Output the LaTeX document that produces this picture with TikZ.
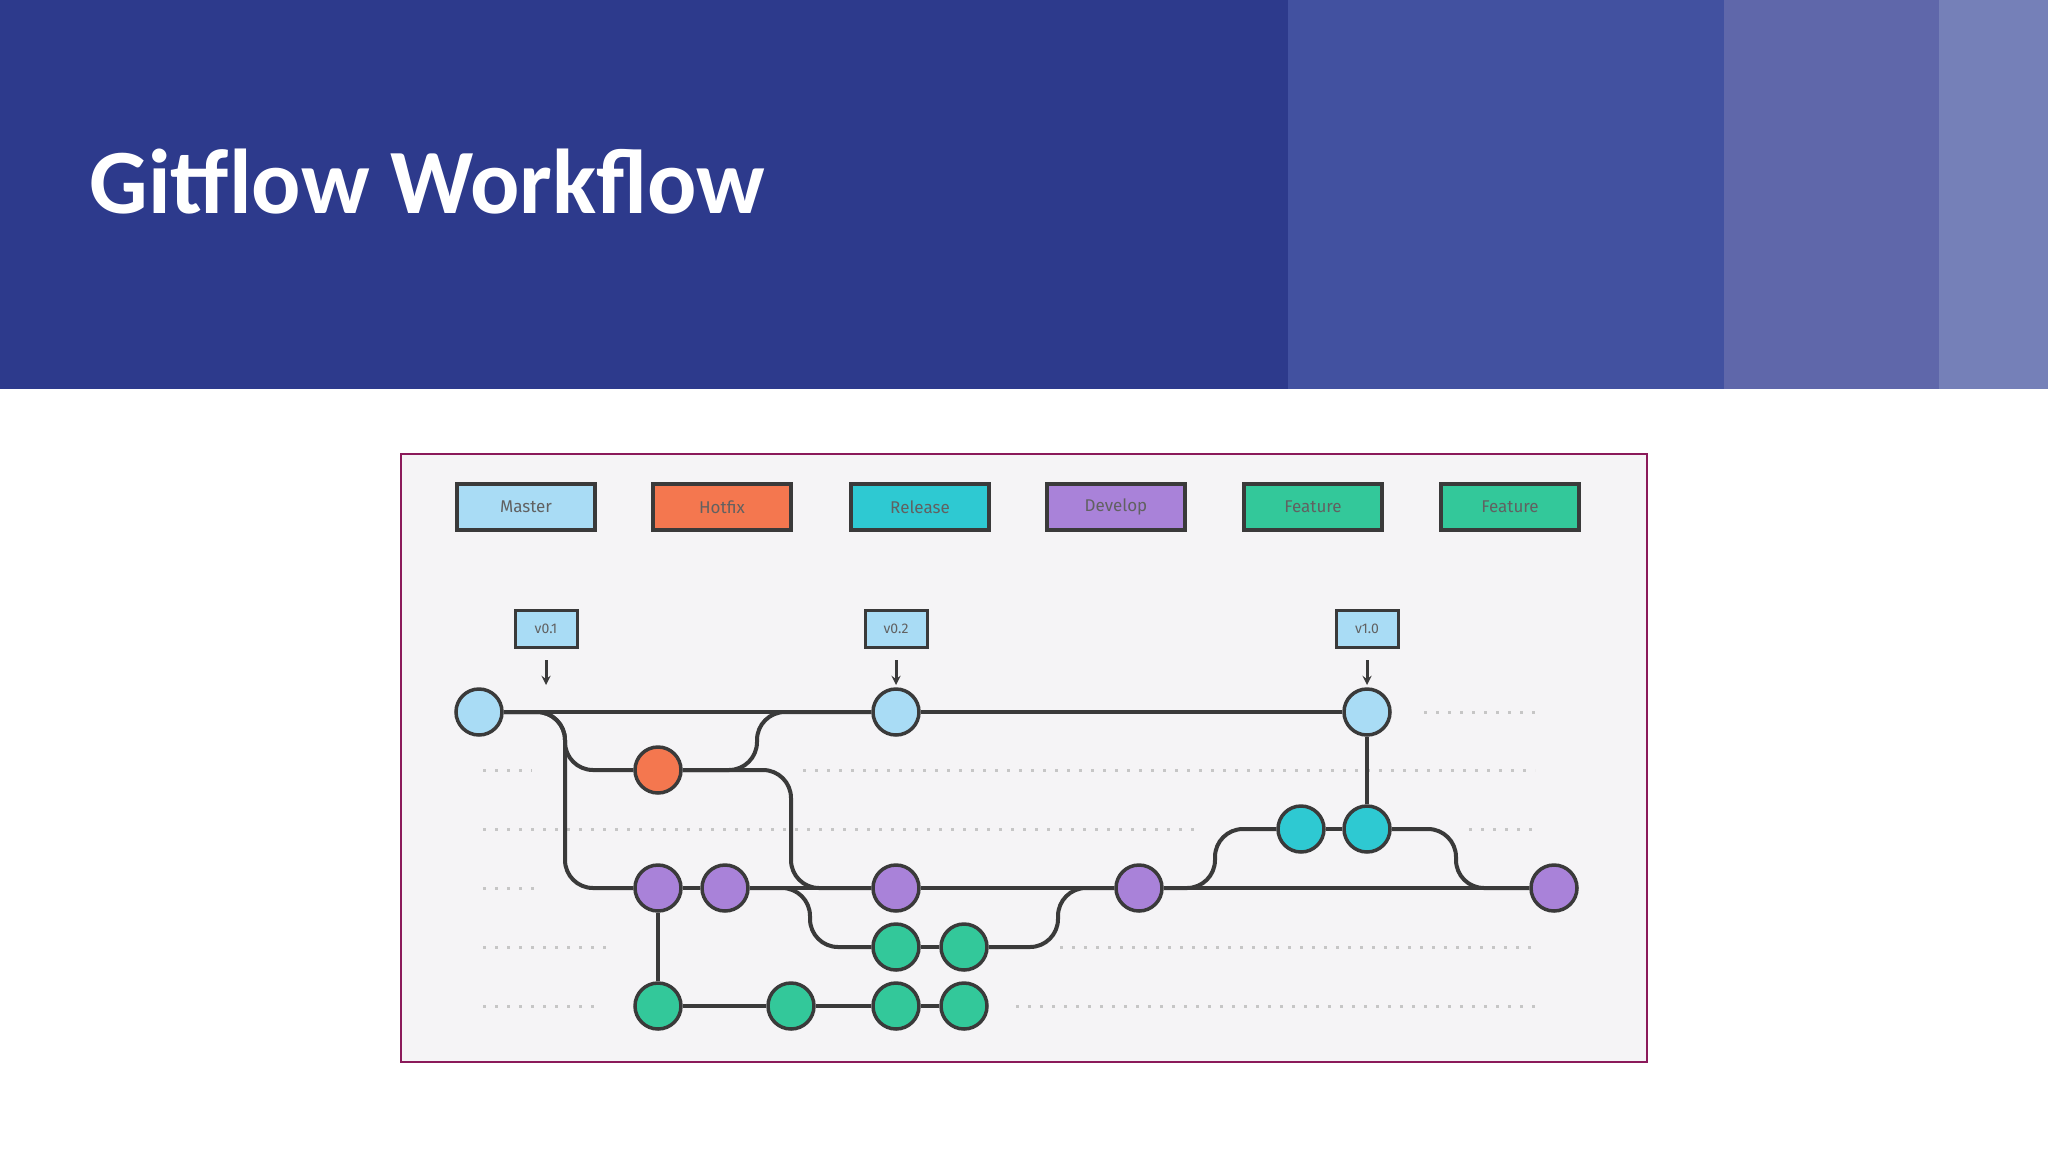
\documentclass[tikz,border=0pt]{standalone}
\usepackage{fontspec}
\setmainfont{Carlito}
\newfontfamily\legendfont{Fira Sans}
\usetikzlibrary{backgrounds}
\definecolor{hdrA}{HTML}{2D3A8C}
\definecolor{hdrB}{HTML}{4251A0}
\definecolor{hdrC}{HTML}{5F67AA}
\definecolor{hdrD}{HTML}{7580B8}
\definecolor{masterc}{HTML}{A9DCF5}
\definecolor{hotfixc}{HTML}{F4774F}
\definecolor{releasec}{HTML}{2EC9D2}
\definecolor{developc}{HTML}{A982D9}
\definecolor{featurec}{HTML}{33C89A}
\definecolor{linec}{HTML}{3A3A3A}
\definecolor{framec}{HTML}{8B1A5A}
\definecolor{panelc}{HTML}{F5F4F6}
\tikzset{
  commit/.style={circle,draw=linec,line width=3.5pt,minimum size=46pt,inner sep=0pt,fill=#1},
  legend/.style={draw=linec,line width=3.5pt,minimum width=138pt,minimum height=46pt,fill=#1,
    font=\legendfont\fontsize{17}{17}\selectfont,text=linec!80},
  tag/.style={draw=linec,line width=3pt,minimum width=62pt,minimum height=37pt,fill=masterc,
    font=\legendfont\fontsize{14}{14}\selectfont,text=linec!80},
  branch/.style={draw=linec,line width=4pt,rounded corners=28pt},
  lane/.style={draw=gray!45,line width=3pt,dash pattern=on 3pt off 9pt}
}
\begin{document}
\begin{tikzpicture}[x=1pt,y=-1pt]
  \useasboundingbox (0,0) rectangle (2048,1152);
  % header
  \fill[hdrA] (0,0) rectangle (1288,389);
  \fill[hdrB] (1288,0) rectangle (1724,389);
  \fill[hdrC] (1724,0) rectangle (1939,389);
  \fill[hdrD] (1939,0) rectangle (2048,389);
  \node[anchor=base west,text=white,font=\bfseries\fontsize{92}{92}\selectfont] (title) at (86,213) {Gitflow Workflow};

  % legend
  \node[legend=masterc]  (lmaster)  at (526,507)  {Master};
  \node[legend=hotfixc]  (lhotfix)  at (722,507)  {Hotfix};
  \node[legend=releasec] (lrelease) at (920,507)  {Release};
  \node[legend=developc] (ldevelop) at (1116,507) {Develop};
  \node[legend=featurec] (lfeatA)   at (1313,507) {Feature};
  \node[legend=featurec] (lfeatB)   at (1510,507) {Feature};

  % tags
  \foreach \x/\t/\n in {546/v0.1/t1,896/v0.2/t2,1367/v1.0/t3}{
    \node[tag] (\n) at (\x,629) {\t};
    \draw[linec,line width=3pt,-stealth] (\x,660) -- (\x,685);
  }

  % commits
  \node[commit=masterc]  (m1) at (479,712) {};
  \node[commit=masterc]  (m2) at (896,712) {};
  \node[commit=masterc]  (m3) at (1367,712) {};
  \node[commit=hotfixc]  (h1) at (658,770) {};
  \node[commit=releasec] (r1) at (1301,829) {};
  \node[commit=releasec] (r2) at (1367,829) {};
  \node[commit=developc] (d1) at (658,888) {};
  \node[commit=developc] (d2) at (725,888) {};
  \node[commit=developc] (d3) at (896,888) {};
  \node[commit=developc] (d4) at (1139,888) {};
  \node[commit=developc] (d5) at (1554,888) {};
  \node[commit=featurec] (fa1) at (896,947) {};
  \node[commit=featurec] (fa2) at (964,947) {};
  \node[commit=featurec] (fb1) at (658,1006) {};
  \node[commit=featurec] (fb2) at (791,1006) {};
  \node[commit=featurec] (fb3) at (896,1006) {};
  \node[commit=featurec] (fb4) at (964,1006) {};

  \begin{scope}[on background layer]
    \draw[framec,line width=2pt,fill=panelc] (401,454) rectangle (1647,1062);
    % lanes
    \foreach \a/\b/\y in {1424/1535/712, 483/532/770, 803/1535/770, 483/1201/829, 1469/1535/829,
                          483/538/888, 483/614/947, 1060/1535/947, 483/601/1006, 1016/1535/1006}
      \draw[lane] (\a,\y) -- (\b,\y);
    % branches
    \draw[branch] (m1) -- (m2) -- (m3);
    \draw[branch] (m1) -| (565,888) -- (d1);
    \draw[branch] (m1) -| (565,770) -- (h1);
    \draw[branch] (h1) -| (757,712) -- (m2);
    \draw[branch] (h1) -| (791,888) -- (d3);
    \draw[branch] (d1) -- (d2) -- (d3) -- (d4) -- (d5);
    \draw[branch] (d2) -| (810,947) -- (fa1);
    \draw[branch] (fa1) -- (fa2);
    \draw[branch] (fa2) -| (1058,888) -- (d4);
    \draw[branch] (d4) -| (1215,829) -- (r1);
    \draw[branch] (r1) -- (r2) -- (m3);
    \draw[branch] (r2) -| (1456,888) -- (d5);
    \draw[branch] (d1) -- (fb1);
    \draw[branch] (fb1) -- (fb2) -- (fb3) -- (fb4);
  \end{scope}
\end{tikzpicture}
\end{document}
